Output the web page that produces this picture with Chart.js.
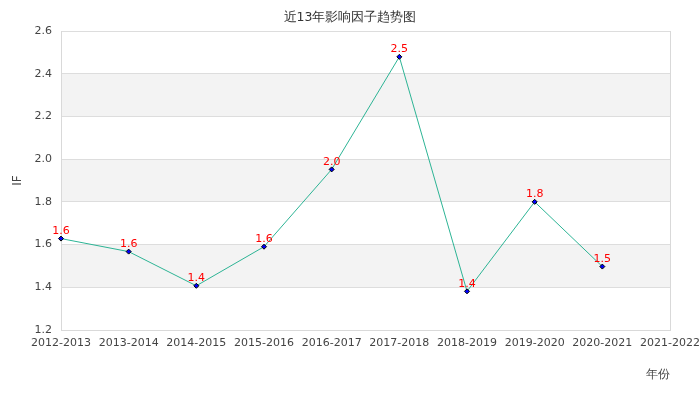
<!DOCTYPE html>
<html>
<head>
<meta charset="utf-8">
<script src="https://cdn.jsdelivr.net/npm/chart.js@4"></script>
<style>
  body { margin: 0; background: #fff; }
  #wrap { width: 700px; height: 400px; }
</style>
</head>
<body>
<div id="wrap"><canvas id="ifChart"></canvas></div>
<script>
// 数据
const years = ['2012-2013', '2013-2014', '2014-2015', '2015-2016', '2016-2017',
               '2017-2018', '2018-2019', '2019-2020', '2020-2021', '2021-2022'];
const ifValues = [1.628, 1.567, 1.407, 1.590, 1.952, 2.479, 1.381, 1.800, 1.497, null];
const yTicks = [1.2, 1.4, 1.6, 1.8, 2.0, 2.2, 2.4, 2.6];

const FONT = 'DejaVu Sans';

// 灰白相间的背景带 + 右边框
const bandPlugin = {
    id: 'bands',
    beforeDraw(chart) {
        const { ctx, chartArea, scales } = chart;
        const y = scales.y;
        ctx.save();
        ctx.fillStyle = '#f3f3f3';
        // 1.4-1.6, 1.8-2.0, 2.2-2.4 为灰色
        for (let i = 1; i + 1 < yTicks.length; i += 2) {
            const top = y.getPixelForValue(yTicks[i + 1]);
            const bottom = y.getPixelForValue(yTicks[i]);
            ctx.fillRect(chartArea.left, top, chartArea.right - chartArea.left, bottom - top);
        }
        ctx.restore();
    },
    afterDraw(chart) {
        const { ctx, chartArea } = chart;
        ctx.save();
        ctx.strokeStyle = '#d9d9d9';
        ctx.lineWidth = 1;
        ctx.beginPath();
        ctx.moveTo(chartArea.right + 0.5, chartArea.top);
        ctx.lineTo(chartArea.right + 0.5, chartArea.bottom);
        ctx.stroke();
        ctx.restore();
    }
};

// 数据标签
const labelPlugin = {
    id: 'valueLabels',
    afterDatasetsDraw(chart) {
        const { ctx } = chart;
        const meta = chart.getDatasetMeta(0);
        ctx.save();
        ctx.fillStyle = '#ff0000';
        ctx.font = '11px "' + FONT + '"';
        ctx.textAlign = 'center';
        ctx.textBaseline = 'bottom';
        meta.data.forEach(function(pt, i) {
            const v = ifValues[i];
            if (v === null) return;
            ctx.fillText(v.toFixed(1), pt.x, pt.y - 2);
        });
        ctx.restore();
    }
};

const ctx = document.getElementById('ifChart').getContext('2d');
const chart = new Chart(ctx, {
    type: 'line',
    data: {
        labels: years,
        datasets: [{
            label: 'IF',
            data: ifValues,
            borderColor: '#2db495',
            borderWidth: 1,
            tension: 0,
            pointStyle: 'rectRot',
            pointRadius: 2.5,
            pointBackgroundColor: '#0000ff',
            pointBorderColor: '#000000',
            pointBorderWidth: 1
        }]
    },
    plugins: [bandPlugin, labelPlugin],
    options: {
        responsive: true,
        maintainAspectRatio: false,
        animation: false,
        layout: { padding: 0 },
        scales: {
            x: {
                offset: false,
                grid: { display: false, drawTicks: false },
                border: { color: '#d9d9d9' },
                ticks: {
                    color: '#444',
                    font: { family: FONT, size: 11 },
                    padding: 7,
                    maxRotation: 0,
                    autoSkip: false
                },
                title: {
                    display: true,
                    text: '年份',
                    align: 'end',
                    color: '#444',
                    font: { family: FONT, size: 12 },
                    padding: { top: 4, bottom: 18 }
                },
                afterFit(scale) {
                    scale.height = 70;
                    scale.paddingLeft = 0;
                    scale.paddingRight = 30;
                }
            },
            y: {
                min: 1.2,
                max: 2.6,
                afterBuildTicks(scale) {
                    scale.ticks = yTicks.map(v => ({ value: v }));
                },
                grid: { color: '#dddddd', drawTicks: false },
                border: { color: '#d9d9d9' },
                ticks: {
                    color: '#444',
                    font: { family: FONT, size: 11 },
                    padding: 9,
                    callback: v => v.toFixed(1)
                },
                title: {
                    display: true,
                    text: 'IF',
                    color: '#444',
                    font: { family: FONT, size: 12 },
                    padding: { top: 11, bottom: 4 }
                },
                afterFit(scale) {
                    scale.width = 61;
                    scale.paddingTop = 0;
                    scale.paddingBottom = 0;
                }
            }
        },
        plugins: {
            legend: { display: false },
            tooltip: { enabled: false },
            title: {
                display: true,
                text: '近13年影响因子趋势图',
                color: '#333',
                font: { family: FONT, size: 12.5, weight: 'normal' },
                padding: { top: 10, bottom: 6 }
            }
        }
    }
});
</script>
</body>
</html>
